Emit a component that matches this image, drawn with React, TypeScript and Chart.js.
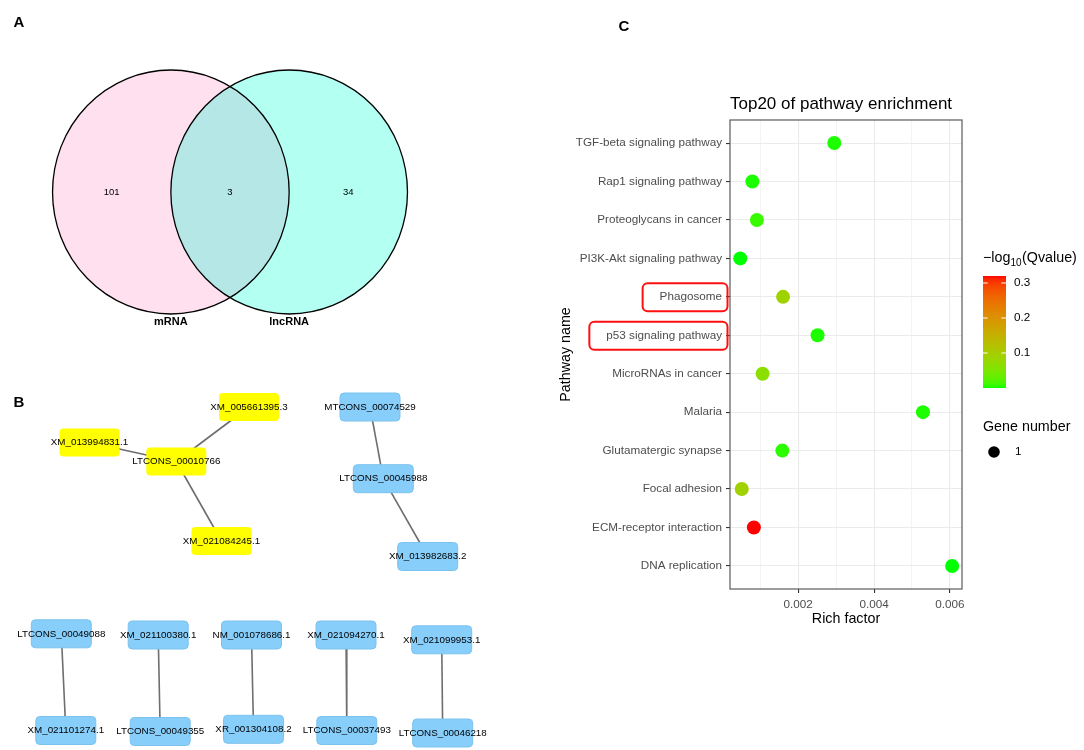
import React, { useEffect, useRef } from 'react';
import { Chart, registerables } from 'chart.js';

Chart.register(...registerables);

const FONT = '"Liberation Sans", Arial, Helvetica, sans-serif';

// ---------------- Panel A : Venn ----------------
const vennSetNames = ['mRNA', 'lncRNA'];
const vennSetCenter = [-0.5, 0.5];
const vennRadius = 1;
const vennCounts = [101, 3, 34];
const vennCountCenter = [-1, 0, 1];
const vennLabelLevel = -1.068;
const vennFill = ['#FFE0EE', '#B3FFF1'];
const vennOverlapFill = '#B4E7E5';

// ---------------- Panel B : network ----------------
const nodeNames = [
  'XM_005661395.3', 'XM_013994831.1', 'LTCONS_00010766', 'XM_021084245.1',
  'MTCONS_00074529', 'LTCONS_00045988', 'XM_013982683.2',
  'LTCONS_00049088', 'XM_021101274.1',
  'XM_021100380.1', 'LTCONS_00049355',
  'NM_001078686.1', 'XR_001304108.2',
  'XM_021094270.1', 'LTCONS_00037493',
  'XM_021099953.1', 'LTCONS_00046218',
];
const nodeX = [249, 89.5, 176.3, 221.5, 370, 383.3, 427.7, 61.3, 65.8, 158.2, 160.2, 251.5, 253.5, 346, 346.8, 441.7, 442.7];
const nodeY = [27, 62.5, 81.5, 161, 27, 98.7, 176.5, 253.8, 350.5, 255, 351.5, 255, 349.3, 255, 350.5, 259.8, 353];
const nodeInModule = [1, 1, 1, 1, 0, 0, 0, 0, 0, 0, 0, 0, 0, 0, 0, 0, 0];
const edgeFrom = [1, 0, 2, 4, 5, 7, 9, 11, 13, 15];
const edgeTo = [2, 2, 3, 5, 6, 8, 10, 12, 14, 16];

// ---------------- Panel C : pathway enrichment ----------------
const pathways = [
  'TGF-beta signaling pathway',
  'Rap1 signaling pathway',
  'Proteoglycans in cancer',
  'PI3K-Akt signaling pathway',
  'Phagosome',
  'p53 signaling pathway',
  'MicroRNAs in cancer',
  'Malaria',
  'Glutamatergic synapse',
  'Focal adhesion',
  'ECM-receptor interaction',
  'DNA replication',
];
const richFactor = [0.00295, 0.00079, 0.00091, 0.00047, 0.0016, 0.00251, 0.00106, 0.00529, 0.00158, 0.00051, 0.00083, 0.00606];
const qValue = [0.003, 0.003, 0.01, 0.0, 0.088, 0.003, 0.065, 0.003, 0.006, 0.09, 0.32, 0.0];
const geneNumber = [1, 1, 1, 1, 1, 1, 1, 1, 1, 1, 1, 1];
const highlighted = ['Phagosome', 'p53 signaling pathway'];
const xTickValues = [0.001, 0.002, 0.003, 0.004, 0.005, 0.006];
const colorbarTicks = [0.1, 0.2, 0.3];
const sizeLegendValues = [1];

// ---------------- colour helpers (Lab interpolation, like ggplot) ----------------
function toLin(c: number) {
  c /= 255;
  return c <= 0.04045 ? c / 12.92 : Math.pow((c + 0.055) / 1.055, 2.4);
}
function fromLin(c: number) {
  if (c <= 0) return 0;
  const v = c <= 0.0031308 ? 12.92 * c : 1.055 * Math.pow(c, 1 / 2.4) - 0.055;
  return Math.round(Math.max(0, Math.min(1, v)) * 255);
}
function fl(t: number) { return t > 0.008856 ? Math.cbrt(t) : 7.787 * t + 16 / 116; }
function finv(t: number) { return t > 0.206893 ? t * t * t : (t - 16 / 116) / 7.787; }
function rgbToLab(r: number, g: number, b: number) {
  const R = toLin(r), G = toLin(g), B = toLin(b);
  const X = (0.4124564 * R + 0.3575761 * G + 0.1804375 * B) / 0.95047;
  const Y = 0.2126729 * R + 0.7151522 * G + 0.072175 * B;
  const Z = (0.0193339 * R + 0.119192 * G + 0.9503041 * B) / 1.08883;
  const fx = fl(X), fy = fl(Y), fz = fl(Z);
  return [116 * fy - 16, 500 * (fx - fy), 200 * (fy - fz)];
}
function labToRgb(L: number, a: number, b: number) {
  const fy = (L + 16) / 116, fx = fy + a / 500, fz = fy - b / 200;
  const X = finv(fx) * 0.95047, Y = finv(fy), Z = finv(fz) * 1.08883;
  const R = 3.2404542 * X - 1.5371385 * Y - 0.4985314 * Z;
  const G = -0.969266 * X + 1.8760108 * Y + 0.041556 * Z;
  const B = 0.0556434 * X - 0.2040259 * Y + 1.0572252 * Z;
  return `rgb(${fromLin(R)},${fromLin(G)},${fromLin(B)})`;
}
const LOW = rgbToLab(0, 255, 0);
const HIGH = rgbToLab(255, 0, 0);
const qMin = Math.min(...qValue);
const qMax = Math.max(...qValue);
function qColor(q: number) {
  const t = Math.max(0, Math.min(1, (q - qMin) / (qMax - qMin)));
  return labToRgb(LOW[0] + (HIGH[0] - LOW[0]) * t, LOW[1] + (HIGH[1] - LOW[1]) * t, LOW[2] + (HIGH[2] - LOW[2]) * t);
}

function panelLetter(ctx: CanvasRenderingContext2D, s: string, x: number, y: number) {
  ctx.save();
  ctx.font = `bold 15px ${FONT}`;
  ctx.fillStyle = '#000';
  ctx.textAlign = 'center';
  ctx.textBaseline = 'middle';
  ctx.fillText(s, x, y);
  ctx.restore();
}

// ---------------- plugins ----------------
const vennPlugin = {
  id: 'venn',
  beforeDatasetsDraw(chart: any) {
    const { ctx, scales } = chart;
    const xs = scales.x, ys = scales.y;
    const cy = ys.getPixelForValue(0);
    const ell = vennSetCenter.map((c) => {
      const cx = xs.getPixelForValue(c);
      const rx = xs.getPixelForValue(c + vennRadius) - cx;
      const ry = cy - ys.getPixelForValue(vennRadius);
      return { cx, rx, ry };
    });
    const path = (e: any) => {
      ctx.beginPath();
      ctx.ellipse(e.cx, cy, e.rx, e.ry, 0, 0, Math.PI * 2);
    };
    ctx.save();
    ell.forEach((e, i) => { path(e); ctx.fillStyle = vennFill[i]; ctx.fill(); });
    ctx.save();
    path(ell[0]); ctx.clip();
    path(ell[1]); ctx.fillStyle = vennOverlapFill; ctx.fill();
    ctx.restore();
    ctx.strokeStyle = '#000';
    ctx.lineWidth = 1.3;
    ell.forEach((e) => { path(e); ctx.stroke(); });
    ctx.restore();
  },
  afterDatasetsDraw(chart: any) {
    const { ctx, scales } = chart;
    const xs = scales.x, ys = scales.y;
    ctx.save();
    ctx.fillStyle = '#000';
    ctx.textAlign = 'center';
    ctx.textBaseline = 'middle';
    ctx.font = `9.5px ${FONT}`;
    vennCounts.forEach((c, i) => ctx.fillText(String(c), xs.getPixelForValue(vennCountCenter[i]), ys.getPixelForValue(0)));
    ctx.font = `bold 11px ${FONT}`;
    vennSetNames.forEach((s, i) => ctx.fillText(s, xs.getPixelForValue(vennSetCenter[i]), ys.getPixelForValue(vennLabelLevel)));
    ctx.restore();
    panelLetter(ctx, 'A', 19, 23);
  },
};

const networkPlugin = {
  id: 'network',
  afterDatasetsDraw(chart: any) {
    const { ctx } = chart;
    const meta = chart.getDatasetMeta(chart.data.datasets.length - 1);
    ctx.save();
    meta.data.forEach((pt: any, i: number) => {
      const w = 60, h = 28;
      ctx.beginPath();
      ctx.roundRect(pt.x - w / 2, pt.y - h / 2, w, h, 4);
      if (nodeInModule[i]) {
        ctx.fillStyle = '#FFFF00';
        ctx.fill();
      } else {
        ctx.fillStyle = '#87CEFA';
        ctx.fill();
        ctx.strokeStyle = '#7CC2EE';
        ctx.lineWidth = 1;
        ctx.stroke();
      }
    });
    ctx.fillStyle = '#000';
    ctx.font = `9.8px ${FONT}`;
    ctx.textAlign = 'center';
    ctx.textBaseline = 'middle';
    meta.data.forEach((pt: any, i: number) => ctx.fillText(nodeNames[i], pt.x, pt.y));
    ctx.restore();
    panelLetter(ctx, 'B', 19, 23);
  },
};

const TICK_FONT = { family: FONT, size: 11.7 };

const enrichPlugin = {
  id: 'enrich',
  afterDatasetsDraw(chart: any) {
    const { ctx, chartArea, scales } = chart;
    const n = pathways.length;
    ctx.save();
    // panel border
    ctx.strokeStyle = '#5a5a5a';
    ctx.lineWidth = 1.2;
    ctx.strokeRect(chartArea.left, chartArea.top, chartArea.right - chartArea.left, chartArea.bottom - chartArea.top);
    // title
    ctx.fillStyle = '#000';
    ctx.font = `17px ${FONT}`;
    ctx.textAlign = 'left';
    ctx.textBaseline = 'middle';
    ctx.fillText('Top20 of pathway enrichment', chartArea.left, chartArea.top - 16);
    // highlight boxes
    ctx.font = `${TICK_FONT.size}px ${FONT}`;
    highlighted.forEach((name) => {
      const i = pathways.indexOf(name);
      const y = scales.y.getPixelForValue(n - i);
      const w = ctx.measureText(name).width;
      const right = chartArea.left - 2.5;
      const left = chartArea.left - 8 - w - 17;
      ctx.beginPath();
      ctx.roundRect(left, y - 13.5, right - left, 28, 5);
      ctx.strokeStyle = '#FF1010';
      ctx.lineWidth = 2;
      ctx.stroke();
    });
    // colour legend
    const lx = chartArea.right + 21;
    ctx.fillStyle = '#000';
    ctx.textBaseline = 'alphabetic';
    ctx.font = `14.3px ${FONT}`;
    let tx = lx;
    const tBase = 262;
    ctx.fillText('\u2212', tx, tBase); tx += ctx.measureText('\u2212').width;
    ctx.fillText('log', tx, tBase); tx += ctx.measureText('log').width;
    ctx.font = `10px ${FONT}`;
    ctx.fillText('10', tx, tBase + 3.5); tx += ctx.measureText('10').width + 0.5;
    ctx.font = `14.3px ${FONT}`;
    ctx.fillText('(Qvalue)', tx, tBase);
    const barTop = 276, barBottom = 388, barW = 23;
    for (let py = barTop; py < barBottom; py++) {
      const v = qMax - ((py + 0.5 - barTop) / (barBottom - barTop)) * (qMax - qMin);
      ctx.fillStyle = qColor(v);
      ctx.fillRect(lx, py, barW, 1);
    }
    ctx.strokeStyle = '#fff';
    ctx.lineWidth = 1;
    ctx.font = `${TICK_FONT.size}px ${FONT}`;
    ctx.textBaseline = 'middle';
    colorbarTicks.forEach((v) => {
      const y = barBottom - ((v - qMin) / (qMax - qMin)) * (barBottom - barTop);
      ctx.beginPath();
      ctx.moveTo(lx, y); ctx.lineTo(lx + 4.6, y);
      ctx.moveTo(lx + barW - 4.6, y); ctx.lineTo(lx + barW, y);
      ctx.stroke();
      ctx.fillStyle = '#000';
      ctx.fillText(v.toFixed(1), lx + barW + 8, y);
    });
    // size legend
    ctx.font = `14.3px ${FONT}`;
    ctx.fillText('Gene number', lx, 427);
    sizeLegendValues.forEach((s, k) => {
      const y = 452 + k * 20;
      ctx.beginPath();
      ctx.arc(lx + 11, y, 5.8 * Math.sqrt(s), 0, Math.PI * 2);
      ctx.fillStyle = '#000';
      ctx.fill();
      ctx.font = `${TICK_FONT.size}px ${FONT}`;
      ctx.fillText(String(s), lx + 32, y);
    });
    ctx.restore();
    panelLetter(ctx, 'C', 84, 27);
  },
};

function isMajorX(v: number) {
  return Math.round(v * 1000) % 2 === 0;
}

export default function App() {
  const refA = useRef<HTMLCanvasElement>(null);
  const refB = useRef<HTMLCanvasElement>(null);
  const refC = useRef<HTMLCanvasElement>(null);

  useEffect(() => {
    const charts: Chart[] = [];
    const hidden = { display: false };

    // Panel A
    charts.push(new Chart(refA.current!, {
      type: 'scatter',
      data: {
        datasets: [{
          data: vennCountCenter.map((x) => ({ x, y: 0 })),
          pointRadius: 0,
        }],
      },
      options: {
        responsive: false, animation: false, events: [],
        layout: { padding: 0 },
        plugins: { legend: hidden, tooltip: { enabled: false } },
        scales: {
          x: { type: 'linear', min: -1.944, max: 2.62, display: false },
          y: { type: 'linear', min: -1.541, max: 1.574, display: false },
        },
      },
      plugins: [vennPlugin],
    } as any));

    // Panel B
    const edgeSets = edgeFrom.map((a, k) => ({
      data: [{ x: nodeX[a], y: nodeY[a] }, { x: nodeX[edgeTo[k]], y: nodeY[edgeTo[k]] }],
      showLine: true,
      borderColor: '#6E6E6E',
      borderWidth: 1.6,
      pointRadius: 0,
    }));
    charts.push(new Chart(refB.current!, {
      type: 'scatter',
      data: {
        datasets: [
          ...edgeSets,
          { data: nodeNames.map((_, i) => ({ x: nodeX[i], y: nodeY[i] })), pointRadius: 0 },
        ],
      },
      options: {
        responsive: false, animation: false, events: [],
        layout: { padding: 0 },
        plugins: { legend: hidden, tooltip: { enabled: false } },
        scales: {
          x: { type: 'linear', min: 0, max: 540, display: false },
          y: { type: 'linear', min: 0, max: 370, reverse: true, display: false },
        },
      },
      plugins: [networkPlugin],
    } as any));

    // Panel C
    const n = pathways.length;
    const colors = qValue.map(qColor);
    charts.push(new Chart(refC.current!, {
      type: 'scatter',
      data: {
        datasets: [{
          data: pathways.map((_, i) => ({ x: richFactor[i], y: n - i })),
          pointRadius: geneNumber.map((g) => 7 * Math.sqrt(g)),
          pointHoverRadius: geneNumber.map((g) => 7 * Math.sqrt(g)),
          backgroundColor: colors,
          borderColor: colors,
          borderWidth: 0,
        }],
      },
      options: {
        responsive: false, animation: false, events: [],
        layout: { padding: { left: 10, top: 120, right: 122, bottom: 116 } },
        plugins: { legend: hidden, tooltip: { enabled: false } },
        scales: {
          x: {
            type: 'linear', min: 0.0002, max: 0.00632,
            afterBuildTicks: (ax: any) => { ax.ticks = xTickValues.map((v) => ({ value: v })); },
            afterFit: (ax: any) => { ax.height = 45; },
            ticks: {
              callback: (v: any) => (isMajorX(Number(v)) ? Number(v).toFixed(3) : ''),
              font: TICK_FONT, color: '#4D4D4D', padding: 5, maxRotation: 0, autoSkip: false,
            },
            grid: {
              color: '#EBEBEB',
              lineWidth: (c: any) => (c.tick && isMajorX(c.tick.value) ? 1.1 : 0.55),
              tickLength: 4,
              tickColor: (c: any) => (c.tick && isMajorX(c.tick.value) ? '#333333' : 'rgba(0,0,0,0)'),
              tickWidth: 1.1,
            },
            border: { display: false },
            title: { display: true, text: 'Rich factor', font: { family: FONT, size: 14.3 }, color: '#000', padding: { top: 0, bottom: 6 } },
          },
          y: {
            type: 'linear', min: 0.4, max: n + 0.6,
            afterBuildTicks: (ax: any) => { ax.ticks = pathways.map((_, i) => ({ value: n - i })); },
            afterFit: (ax: any) => { ax.width = 180; },
            ticks: {
              callback: (v: any) => pathways[n - Number(v)] ?? '',
              font: TICK_FONT, color: '#4D4D4D', padding: 4, autoSkip: false,
            },
            grid: { color: '#EBEBEB', lineWidth: 1.1, tickLength: 4, tickColor: '#333333', tickWidth: 1.1 },
            border: { display: false },
            title: { display: true, text: 'Pathway name', font: { family: FONT, size: 14.3 }, color: '#000', padding: { top: 7.4, bottom: 0 } },
          },
        },
      },
      plugins: [enrichPlugin],
    } as any));

    return () => charts.forEach((c) => c.destroy());
  }, []);

  return (
    <div style={{ position: 'absolute', left: 0, top: 0, width: 1084, height: 750, background: '#fff', overflow: 'hidden' }}>
      <canvas ref={refA} width={540} height={380} style={{ position: 'absolute', left: 0, top: 0, width: 540, height: 380 }} />
      <canvas ref={refB} width={540} height={370} style={{ position: 'absolute', left: 0, top: 380, width: 540, height: 370 }} />
      <canvas ref={refC} width={544} height={750} style={{ position: 'absolute', left: 540, top: 0, width: 544, height: 750 }} />
    </div>
  );
}
